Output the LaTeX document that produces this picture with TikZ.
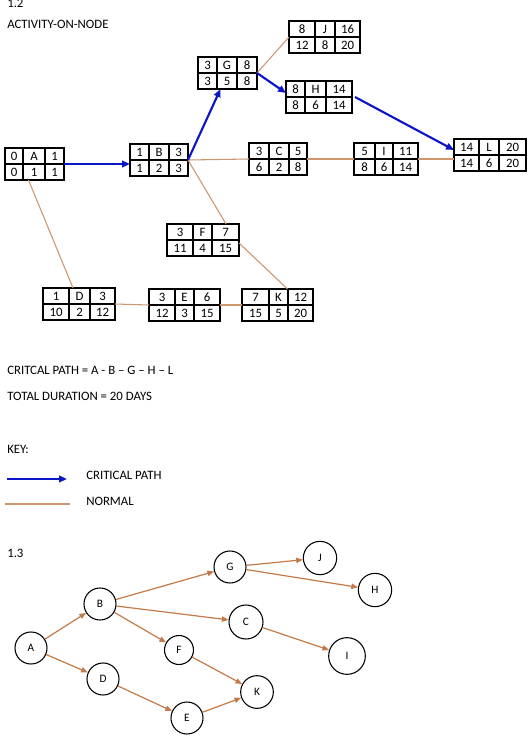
\documentclass[tikz,border=0pt]{standalone}
\usepackage{fontspec}
\setmainfont{Carlito}
\usetikzlibrary{arrows.meta}
\definecolor{critblue}{RGB}{12,22,200}
\definecolor{normbrown}{RGB}{205,150,110}
\definecolor{arrbrown}{RGB}{196,122,72}

\tikzset{
  aonframe/.style={draw, line width=0.8pt, inner sep=0pt, outer sep=0pt, minimum height=24pt},
  aonline/.style={line width=0.8pt},
  aontext/.style={inner sep=0pt, font=\fontsize{9.6}{11}\selectfont},
  critarrow/.style={draw=critblue, line width=1.6pt, -{Triangle[length=6pt,width=5pt]}},
  normline/.style={draw=normbrown, line width=0.8pt},
  circnode/.style={draw, circle, line width=0.8pt, inner sep=0pt, font=\fontsize{8.5}{10}\selectfont},
  carrow/.style={draw=arrbrown, line width=0.9pt, -{Triangle[length=5pt,width=4pt]}},
  plaintext/.style={inner sep=0pt, anchor=base west, font=\fontsize{9.6}{11}\selectfont}
}

\newcommand\AONbox[6]{\def\aonname{#1}\def\aonx{#2}\def\aony{#3}\def\aonwa{#4}\def\aonwb{#5}\def\aonwc{#6}\AONfill}
\newcommand\AONfill[6]{%
  \pgfmathsetmacro\aonW{\aonwa+\aonwb+\aonwc}%
  \node[aonframe, minimum width=\aonW*0.75pt, anchor=north west] (\aonname) at (\aonx,\aony) {};
  \draw[aonline] (\aonname.west) -- (\aonname.east);
  \draw[aonline] (\aonname.north west) ++(\aonwa,0) -- ++(0,32);
  \draw[aonline] (\aonname.north west) ++(\aonwa+\aonwb,0) -- ++(0,32);
  \path (\aonname.north west) ++(\aonwa/2,8) node[aontext] (\aonname-tl) {#1};
  \path (\aonname.north west) ++(\aonwa+\aonwb/2,8) node[aontext] (\aonname-tm) {#2};
  \path (\aonname.north west) ++(\aonwa+\aonwb+\aonwc/2,8) node[aontext] (\aonname-tr) {#3};
  \path (\aonname.north west) ++(\aonwa/2,24) node[aontext] (\aonname-bl) {#4};
  \path (\aonname.north west) ++(\aonwa+\aonwb/2,24) node[aontext] (\aonname-bm) {#5};
  \path (\aonname.north west) ++(\aonwa+\aonwb+\aonwc/2,24) node[aontext] (\aonname-br) {#6};
}

\begin{document}
\begin{tikzpicture}[x=0.75pt, y=-0.75pt]
\fill[white] (0,0) rectangle (530,738);
\useasboundingbox (0,0) rectangle (530,738);

% titles
\node[plaintext] (t12) at (7,8) {1.2};
\node[plaintext] (taon) at (7,29) {ACTIVITY-ON-NODE};

% activity-on-node boxes
\AONbox{A}{5}{148}{18}{22}{19}{0}{A}{1}{0}{1}{1}
\AONbox{B}{130}{144}{19}{20}{19}{1}{B}{3}{1}{2}{3}
\AONbox{G}{198}{57}{19}{20}{20}{3}{G}{8}{3}{5}{8}
\AONbox{J}{289}{21}{26}{20}{25}{8}{J}{16}{12}{8}{20}
\AONbox{H}{286}{81}{19}{21}{26}{8}{H}{14}{8}{6}{14}
\AONbox{L}{454}{139}{25}{20}{27}{14}{L}{20}{14}{6}{20}
\AONbox{C}{249}{143}{20}{20}{18}{3}{C}{5}{6}{2}{8}
\AONbox{I}{354}{143}{21}{18}{25}{5}{I}{11}{8}{6}{14}
\AONbox{F}{167}{224}{26}{19}{27}{3}{F}{7}{11}{4}{15}
\AONbox{D}{43}{288}{26}{21}{25}{1}{D}{3}{10}{2}{12}
\AONbox{E}{149}{289}{26}{19}{26}{3}{E}{6}{12}{3}{15}
\AONbox{K}{242}{289}{27}{19}{25}{7}{K}{12}{15}{5}{20}

% normal connectors
\draw[normline] (G.east) -- (J.west);
\draw[normline] (B.east) -- (C.west);
\draw[normline] (C.east) -- (I.west);
\draw[normline] (I.east) -- ([shift={(0,4)}]L.west);
\draw[normline] (B.east) -- ([shift={(23,0)}]F.north);
\draw[normline] ([shift={(0,3)}]F.east) -- ([shift={(10,0)}]K.north);
\draw[normline] ([shift={(-6,0)}]A.south) -- ([shift={(-6,0)}]D.north);
\draw[normline] (D.east) -- (E.west);
\draw[normline] (E.east) -- (K.west);

% critical path
\draw[critarrow] (A.east) -- (A.east -| B.west);
\draw[critarrow] (B.east) -- ([shift={(-7,0)}]G.south);
\draw[critarrow] (G.east) -- ([shift={(0,-4)}]H.west);
\draw[critarrow] ([shift={(3,0)}]H.east) -- ([shift={(0,-5)}]L.west);

% texts
\node[plaintext] (tcp) at (7,374) {CRITCAL PATH = A - B – G – H – L};
\node[plaintext] (ttd) at (7,400.7) {TOTAL DURATION = 20 DAYS};
\node[plaintext] (tkey) at (7,453) {KEY:};
\coordinate (k1s) at (7,479);
\coordinate (k1e) at (67,479);
\draw[critarrow] (k1s) -- (k1e);
\node[plaintext] (tkcp) at (86,479) {CRITICAL PATH};
\coordinate (k2s) at (5,504);
\coordinate (k2e) at (70,504);
\draw[normline] (k2s) -- (k2e);
\node[plaintext] (tkn) at (86,505) {NORMAL};

\node[plaintext] (t13) at (7,557.7) {1.3};

% network 1.3
\node[circnode, minimum size=24pt] (cA) at (31,648) {A};
\node[circnode, minimum size=24pt] (cB) at (100,604) {B};
\node[circnode, minimum size=24pt] (cD) at (103,679) {D};
\node[circnode, minimum size=21.75pt] (cF) at (179,650) {F};
\node[circnode, minimum size=24pt] (cE) at (187,718) {E};
\node[circnode, minimum size=24.5pt] (cK) at (257,692) {K};
\node[circnode, minimum size=24pt] (cG) at (230,567) {G};
\node[circnode, minimum size=25.5pt] (cC) at (246,622) {C};
\node[circnode, minimum size=25pt] (cJ) at (320,558) {J};
\node[circnode, minimum size=25pt] (cH) at (375,590) {H};
\node[circnode, minimum size=27.5pt] (cI) at (347,656) {I};

\draw[carrow] (cA) -- (cB);
\draw[carrow] (cA) -- (cD);
\draw[carrow] (cB) -- (cG);
\draw[carrow] (cB) -- (cC);
\draw[carrow] (cB) -- (cF);
\draw[carrow] (cF) -- (cK);
\draw[carrow] (cD) -- (cE);
\draw[carrow] (cE) -- (cK);
\draw[carrow] (cG) -- (cJ);
\draw[carrow] (cG) -- (cH);
\draw[carrow] (cC) -- (cI);
\end{tikzpicture}
\end{document}
